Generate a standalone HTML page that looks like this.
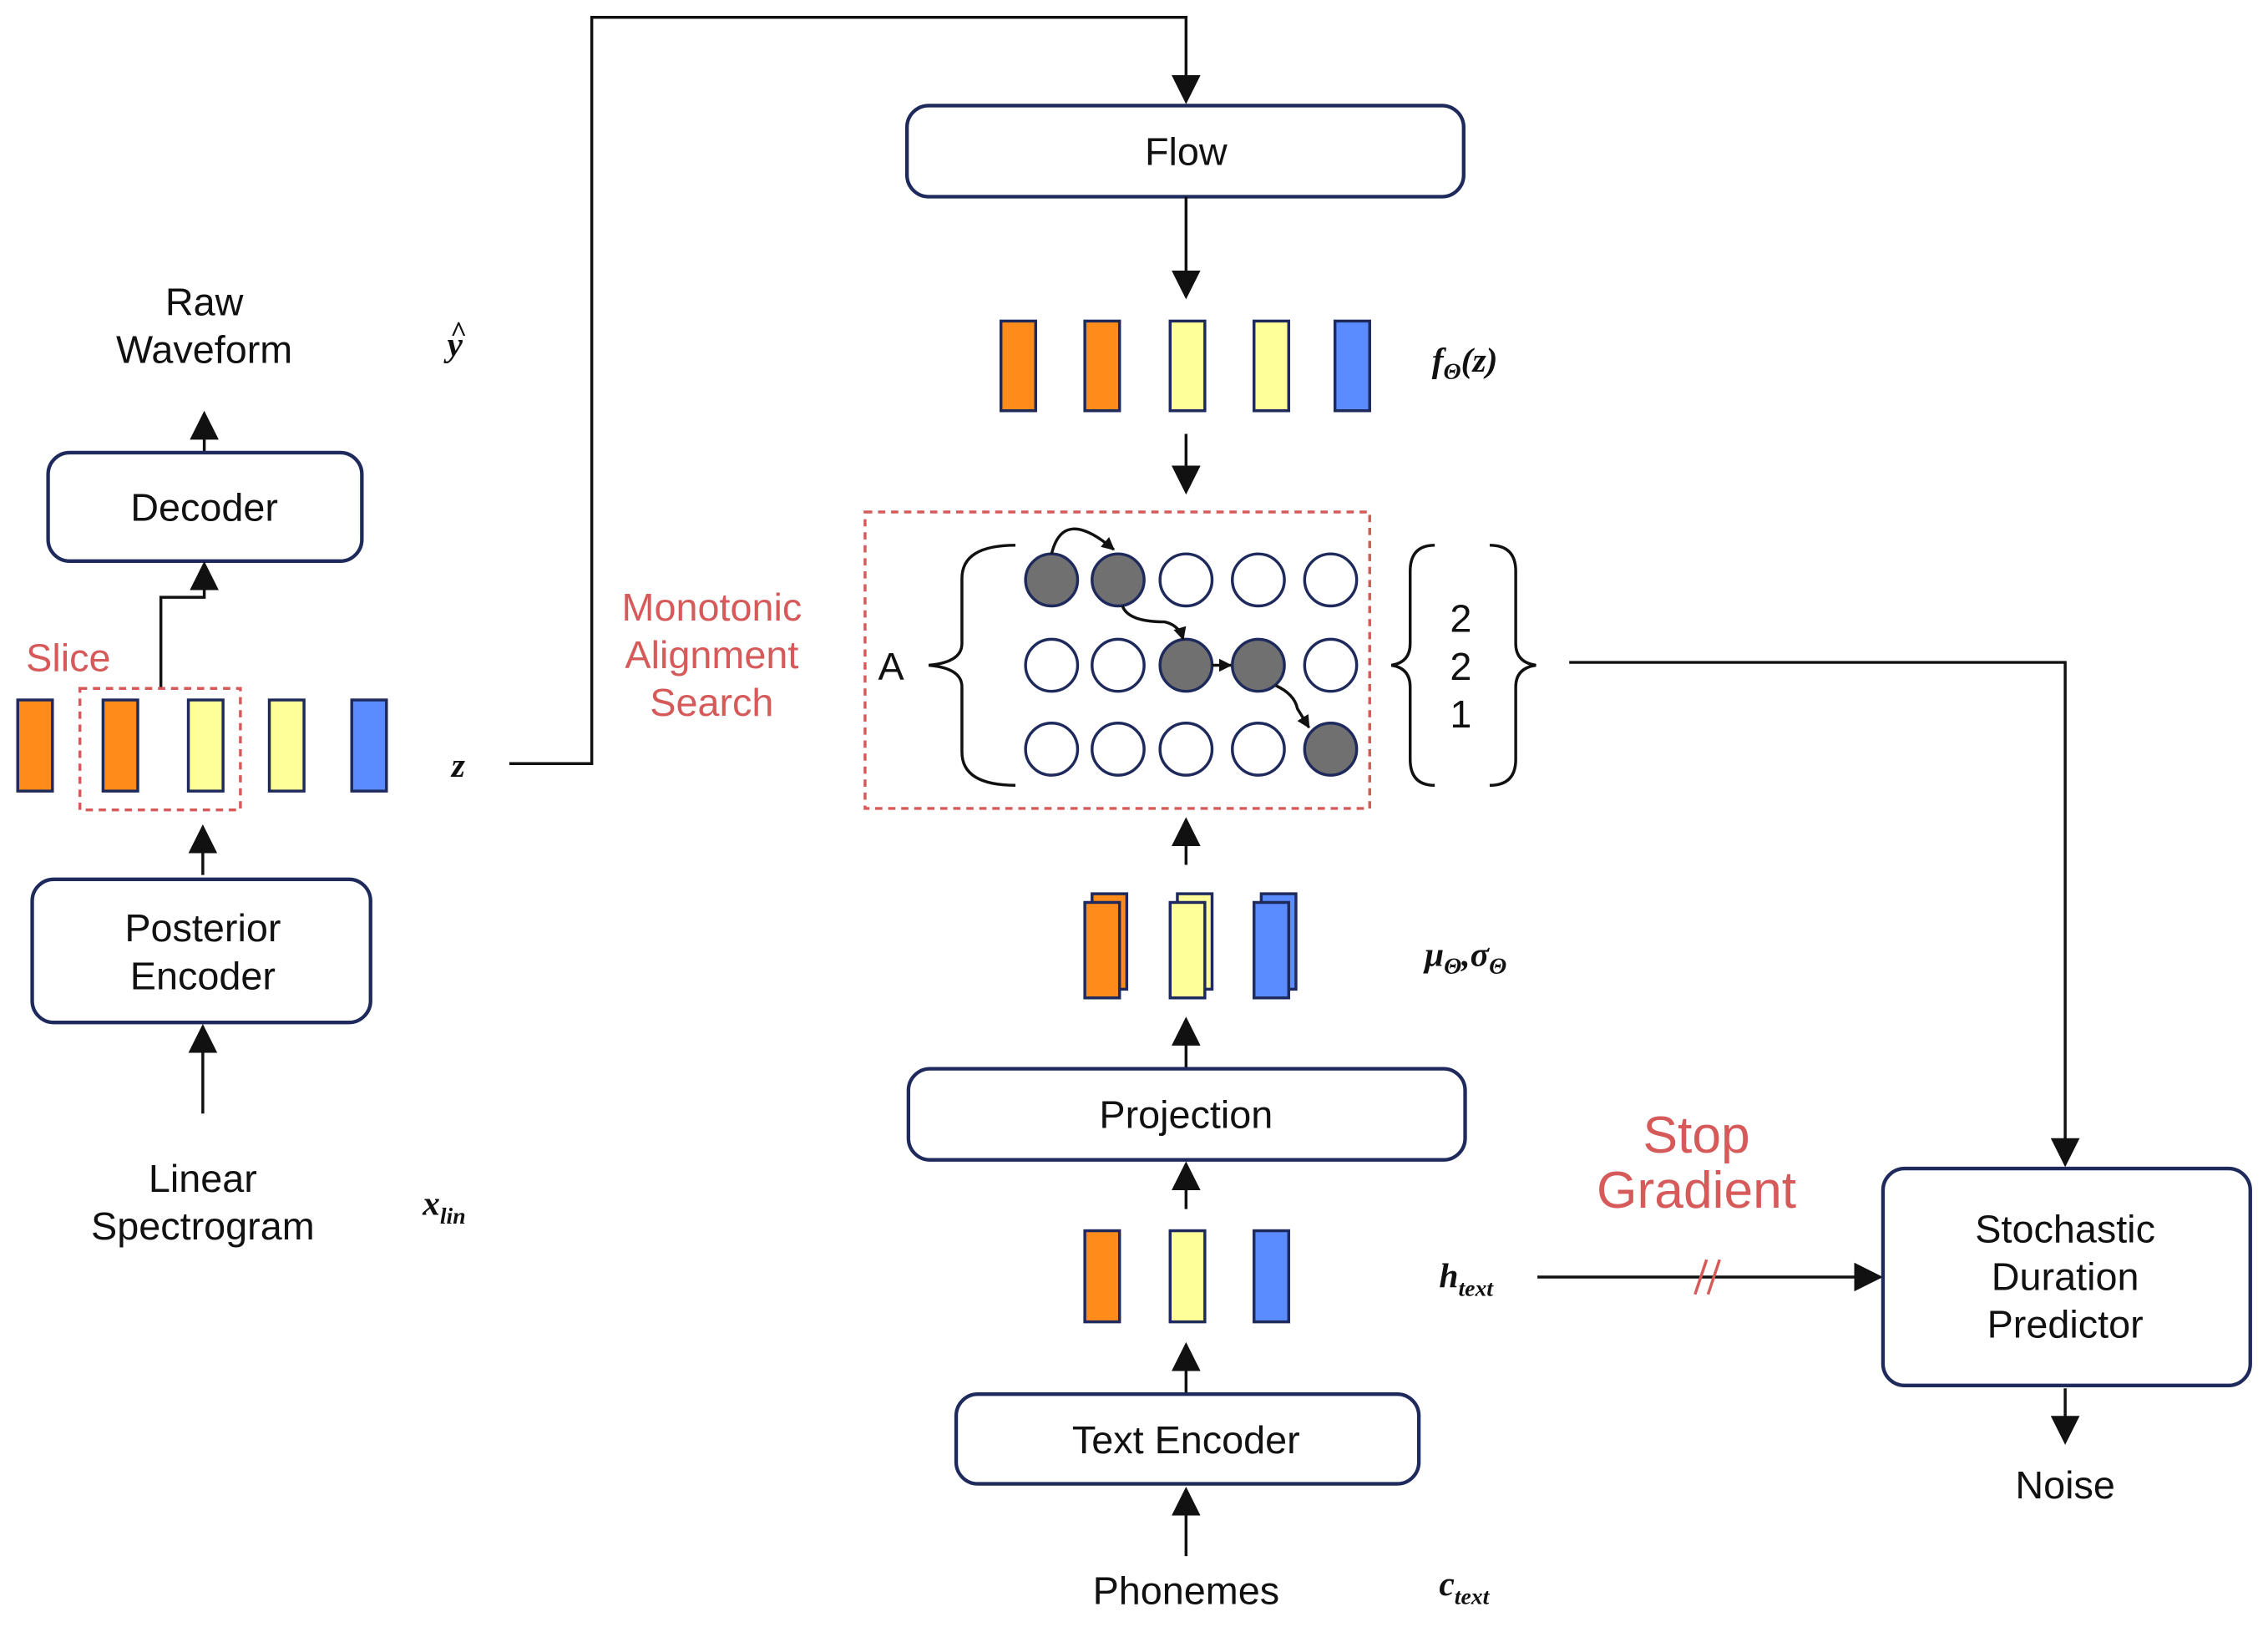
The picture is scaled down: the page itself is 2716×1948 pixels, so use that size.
<!DOCTYPE html>
<html><head><meta charset="utf-8"><style>
html,body{margin:0;padding:0;background:#fff;}
svg{display:block;}
text{font-family:"Liberation Sans","DejaVu Sans",sans-serif;}
.lb{font-size:27px;fill:#111;text-anchor:middle;}
.rd{font-size:27px;fill:#d65a5a;text-anchor:middle;}
.it{font-family:"Liberation Serif",serif;font-style:italic;font-weight:bold;font-size:24px;fill:#111;}
.bx{fill:#fff;stroke:#1f2a5c;stroke-width:2.5;}
.ln{fill:none;stroke:#111;stroke-width:2;}
.o{fill:#ff8c1a;stroke:#1f2a5c;stroke-width:2;}
.y{fill:#ffff99;stroke:#1f2a5c;stroke-width:2;}
.b{fill:#5b8cff;stroke:#1f2a5c;stroke-width:2;}
.c{fill:#fff;stroke:#1f2a5c;stroke-width:2;}
.cf{fill:#707070;stroke:#1f2a5c;stroke-width:2;}
</style></head><body>
<svg width="2716" height="1948" viewBox="0 0 1568 1125" xmlns="http://www.w3.org/2000/svg">
<defs>
<marker id="a" viewBox="0 0 10 10" refX="9" refY="5" markerWidth="9" markerHeight="9" markerUnits="userSpaceOnUse" orient="auto-start-reverse"><path d="M0,0 L10,5 L0,10 z" fill="#111"/></marker>
<marker id="A" viewBox="0 0 10 10" refX="9" refY="5" markerWidth="20" markerHeight="20" markerUnits="userSpaceOnUse" orient="auto"><path d="M0,0 L10,5 L0,10 z" fill="#111"/></marker>
</defs>
<rect class="bx" x="627" y="73" width="385" height="63" rx="15"/>
<text class="lb" x="820" y="114">Flow</text>
<polyline class="ln" points="352,528 409,528 409,12 820,12 820,70" marker-end="url(#A)"/>
<line class="ln" x1="820" y1="136" x2="820" y2="205" marker-end="url(#A)"/>
<rect class="o" x="692" y="222" width="24" height="62"/>
<rect class="o" x="750" y="222" width="24" height="62"/>
<rect class="y" x="809" y="222" width="24" height="62"/>
<rect class="y" x="867" y="222" width="24" height="62"/>
<rect class="b" x="923" y="222" width="24" height="62"/>
<text class="it" x="990" y="257">f<tspan font-size="16" dy="5">Θ</tspan><tspan dy="-5">(z)</tspan></text>
<line class="ln" x1="820" y1="300" x2="820" y2="340" marker-end="url(#A)"/>
<rect x="598" y="354" width="349" height="205" fill="none" stroke="#d65a5a" stroke-width="2" stroke-dasharray="5,4"/>
<text class="lb" x="616" y="470">A</text>
<path class="ln" d="M702,377 Q665,377 665,400 L665,445 Q665,458 642,460 Q665,462 665,475 L665,520 Q665,543 702,543"/>
<path class="ln" d="M992,377 Q975,377 975,395 L975,445 Q975,458 962,460 Q975,462 975,475 L975,525 Q975,543 992,543"/>
<path class="ln" d="M1030,377 Q1048,377 1048,395 L1048,445 Q1048,458 1062,460 Q1048,462 1048,475 L1048,525 Q1048,543 1030,543"/>
<text class="lb" x="1010" y="437">2</text>
<text class="lb" x="1010" y="470">2</text>
<text class="lb" x="1010" y="503">1</text>
<g>
<circle class="cf" cx="727" cy="401" r="18"/><circle class="cf" cx="773" cy="401" r="18"/><circle class="c" cx="820" cy="401" r="18"/><circle class="c" cx="870" cy="401" r="18"/><circle class="c" cx="920" cy="401" r="18"/>
<circle class="c" cx="727" cy="460" r="18"/><circle class="c" cx="773" cy="460" r="18"/><circle class="cf" cx="820" cy="460" r="18"/><circle class="cf" cx="870" cy="460" r="18"/><circle class="c" cx="920" cy="460" r="18"/>
<circle class="c" cx="727" cy="518" r="18"/><circle class="c" cx="773" cy="518" r="18"/><circle class="c" cx="820" cy="518" r="18"/><circle class="c" cx="870" cy="518" r="18"/><circle class="cf" cx="920" cy="518" r="18"/>
</g>
<path class="ln" d="M727,383 Q735,350 770,380" marker-end="url(#a)"/>
<path class="ln" d="M776,419 Q780,430 805,430 Q815,432 818,442" marker-end="url(#a)"/>
<line class="ln" x1="838" y1="460" x2="851" y2="460" marker-end="url(#a)"/>
<path class="ln" d="M882,474 Q895,480 897,490 L905,503" marker-end="url(#a)"/>
<polyline class="ln" points="1085,458 1428,458 1428,805" marker-end="url(#A)"/>
<text class="rd" x="492" y="429">Monotonic</text>
<text class="rd" x="492" y="462">Alignment</text>
<text class="rd" x="492" y="495">Search</text>
<line class="ln" x1="820" y1="598" x2="820" y2="567" marker-end="url(#A)"/>
<rect class="o" x="755" y="618" width="24" height="66"/><rect class="o" x="750" y="624" width="24" height="66"/>
<rect class="y" x="814" y="618" width="24" height="66"/><rect class="y" x="809" y="624" width="24" height="66"/>
<rect class="b" x="872" y="618" width="24" height="66"/><rect class="b" x="867" y="624" width="24" height="66"/>
<text class="it" x="985" y="668">μ<tspan font-size="16" dy="5">Θ</tspan><tspan dy="-5">,σ</tspan><tspan font-size="16" dy="5">Θ</tspan></text>
<line class="ln" x1="820" y1="738" x2="820" y2="705" marker-end="url(#A)"/>
<rect class="bx" x="628" y="739" width="385" height="63" rx="15"/>
<text class="lb" x="820" y="780">Projection</text>
<line class="ln" x1="820" y1="836" x2="820" y2="805" marker-end="url(#A)"/>
<rect class="o" x="750" y="851" width="24" height="63"/>
<rect class="y" x="809" y="851" width="24" height="63"/>
<rect class="b" x="867" y="851" width="24" height="63"/>
<text class="it" x="995" y="890">h<tspan font-size="16" dy="6">text</tspan></text>
<line class="ln" x1="1063" y1="883" x2="1300" y2="883" marker-end="url(#A)"/>
<line x1="1172" y1="895" x2="1180" y2="871" stroke="#d65a5a" stroke-width="2"/>
<line x1="1181" y1="895" x2="1189" y2="871" stroke="#d65a5a" stroke-width="2"/>
<text class="rd" x="1173" y="797" style="font-size:36px">Stop</text>
<text class="rd" x="1173" y="835" style="font-size:36px">Gradient</text>
<line class="ln" x1="820" y1="963" x2="820" y2="930" marker-end="url(#A)"/>
<rect class="bx" x="661" y="964" width="320" height="62" rx="15"/>
<text class="lb" x="820" y="1005">Text Encoder</text>
<line class="ln" x1="820" y1="1076" x2="820" y2="1030" marker-end="url(#A)"/>
<text class="lb" x="820" y="1109">Phonemes</text>
<text class="it" x="995" y="1103">c<tspan font-size="16" dy="6">text</tspan></text>
<rect class="bx" x="1302" y="808" width="254" height="150" rx="15"/>
<text class="lb" x="1428" y="859">Stochastic</text>
<text class="lb" x="1428" y="892">Duration</text>
<text class="lb" x="1428" y="925">Predictor</text>
<line class="ln" x1="1428" y1="960" x2="1428" y2="997" marker-end="url(#A)"/>
<text class="lb" x="1428" y="1036">Noise</text>
<text class="lb" x="141" y="218">Raw</text>
<text class="lb" x="141" y="251">Waveform</text>
<text class="it" x="309" y="246">y</text><text class="it" x="311" y="236" style="font-size:20px">^</text>
<line class="ln" x1="141" y1="312" x2="141" y2="286" marker-end="url(#A)"/>
<rect class="bx" x="33" y="313" width="217" height="75" rx="15"/>
<text class="lb" x="141" y="360">Decoder</text>
<polyline class="ln" points="111,475 111,413 141,413 141,390" marker-end="url(#A)"/>
<text class="rd" x="47" y="464">Slice</text>
<rect x="55" y="476" width="111" height="84" fill="none" stroke="#d65a5a" stroke-width="2" stroke-dasharray="5,4"/>
<rect class="o" x="12" y="484" width="24" height="63"/>
<rect class="o" x="71" y="484" width="24" height="63"/>
<rect class="y" x="130" y="484" width="24" height="63"/>
<rect class="y" x="186" y="484" width="24" height="63"/>
<rect class="b" x="243" y="484" width="24" height="63"/>
<text class="it" x="312" y="537">z</text>
<line class="ln" x1="140" y1="605" x2="140" y2="572" marker-end="url(#A)"/>
<rect class="bx" x="22" y="608" width="234" height="99" rx="15"/>
<text class="lb" x="140" y="651">Posterior</text>
<text class="lb" x="140" y="684">Encoder</text>
<line class="ln" x1="140" y1="770" x2="140" y2="710" marker-end="url(#A)"/>
<text class="lb" x="140" y="824">Linear</text>
<text class="lb" x="140" y="857">Spectrogram</text>
<text class="it" x="292" y="840">x<tspan font-size="16" dy="6">lin</tspan></text>
</svg>
</body></html>
